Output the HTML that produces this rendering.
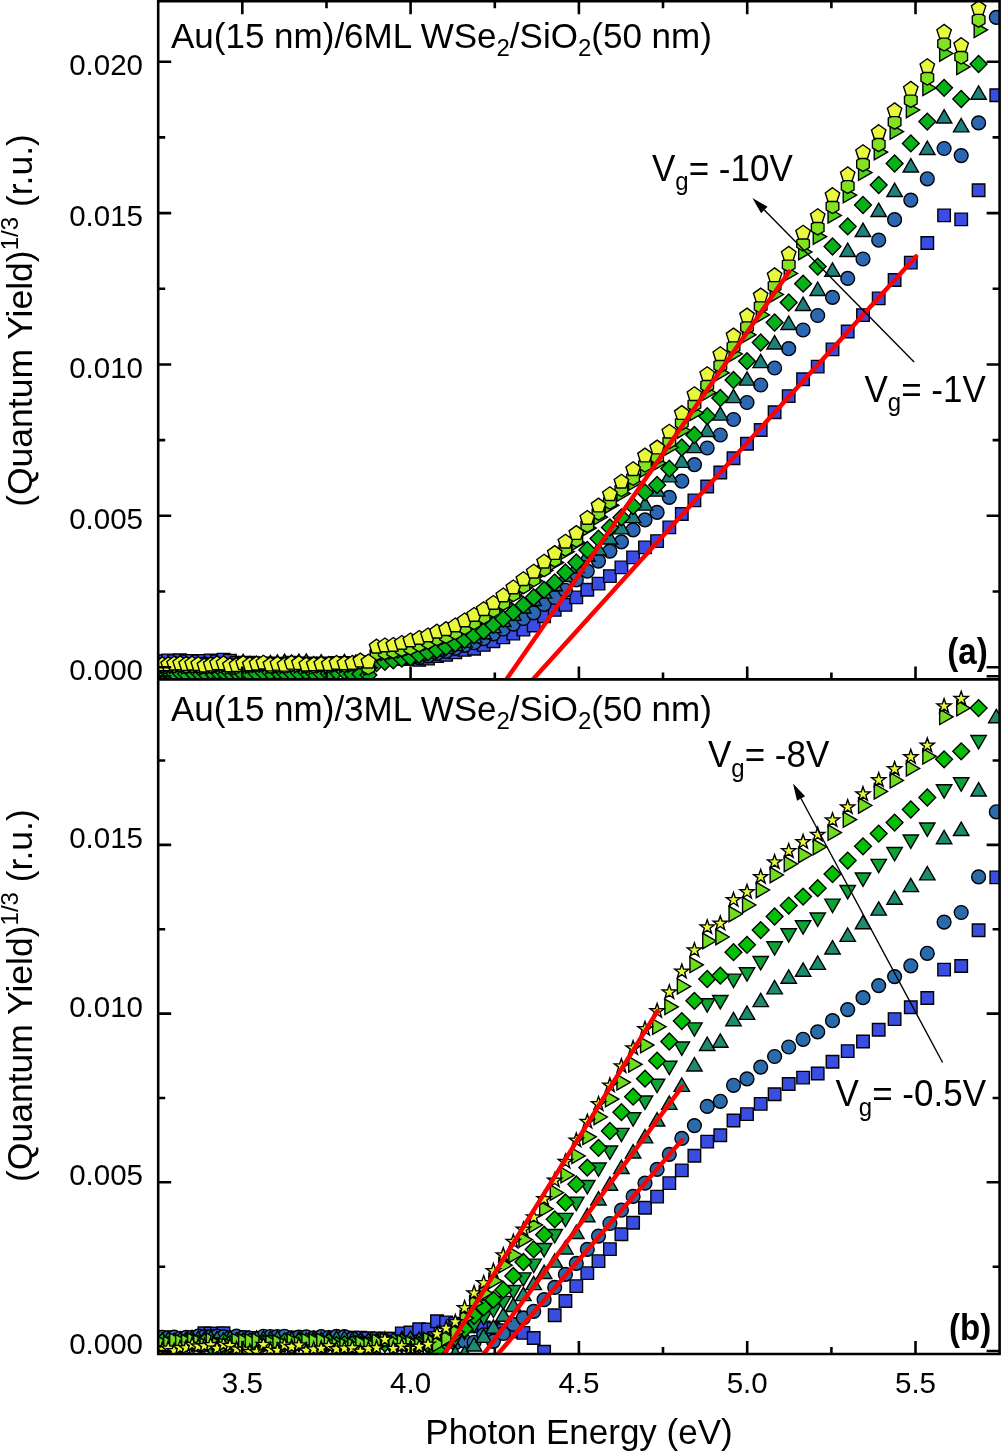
<!DOCTYPE html>
<html><head><meta charset="utf-8"><style>
html,body{margin:0;padding:0;background:#fff;overflow:hidden;}
svg{display:block;font-family:"Liberation Sans",sans-serif;will-change:transform;}
</style></head><body>
<svg width="1001" height="1452" viewBox="0 0 1001 1452">
<defs><path id="m_sq" d="M-6.25,-6.25h12.5v12.5h-12.5z"/><path id="m_diam" d="M0,-8.4L8.4,0L0,8.4L-8.4,0z"/><path id="m_tri" d="M0.00,-8.90L7.71,4.45L-7.71,4.45z"/><path id="m_tdn" d="M0.00,8.90L-7.71,-4.45L7.71,-4.45z"/><path id="m_rtri" d="M8.90,0.00L-4.45,7.71L-4.45,-7.71z"/><path id="m_pent" d="M0.00,-7.60L7.23,-2.35L4.47,6.15L-4.47,6.15L-7.23,-2.35z"/><path id="m_hex" d="M0.00,-7.30L6.32,-3.65L6.32,3.65L0.00,7.30L-6.32,3.65L-6.32,-3.65z"/><path id="m_star" d="M0.00,-7.50L1.76,-2.43L7.13,-2.32L2.85,0.93L4.41,6.07L0.00,3.00L-4.41,6.07L-2.85,0.93L-7.13,-2.32L-1.76,-2.43z"/><clipPath id="clipA"><rect x="158.2" y="1.3" width="841.4000000000001" height="678.1"/></clipPath><clipPath id="clipB"><rect x="158.2" y="679.4" width="841.4000000000001" height="674.6"/></clipPath></defs>
<g clip-path="url(#clipA)" stroke="#000" stroke-width="1.4" stroke-linejoin="miter">
<g fill="#3a4ce3">
<use href="#m_sq" x="156.7" y="661.3"/>
<use href="#m_sq" x="162.4" y="661.4"/>
<use href="#m_sq" x="168.2" y="660.4"/>
<use href="#m_sq" x="174.1" y="661.1"/>
<use href="#m_sq" x="180.1" y="660.3"/>
<use href="#m_sq" x="186.1" y="661.3"/>
<use href="#m_sq" x="192.1" y="660.9"/>
<use href="#m_sq" x="198.2" y="661.3"/>
<use href="#m_sq" x="204.4" y="660.9"/>
<use href="#m_sq" x="210.7" y="660.4"/>
<use href="#m_sq" x="217.0" y="661.2"/>
<use href="#m_sq" x="223.5" y="659.6"/>
<use href="#m_sq" x="229.9" y="660.6"/>
<use href="#m_sq" x="236.5" y="662.8"/>
<use href="#m_sq" x="243.1" y="664.0"/>
<use href="#m_sq" x="249.8" y="662.6"/>
<use href="#m_sq" x="256.6" y="663.8"/>
<use href="#m_sq" x="263.4" y="664.0"/>
<use href="#m_sq" x="270.4" y="663.5"/>
<use href="#m_sq" x="277.4" y="664.2"/>
<use href="#m_sq" x="284.5" y="663.8"/>
<use href="#m_sq" x="291.6" y="662.8"/>
<use href="#m_sq" x="298.9" y="663.8"/>
<use href="#m_sq" x="306.3" y="663.5"/>
<use href="#m_sq" x="313.7" y="664.2"/>
<use href="#m_sq" x="321.2" y="663.4"/>
<use href="#m_sq" x="328.8" y="664.5"/>
<use href="#m_sq" x="336.5" y="663.0"/>
<use href="#m_sq" x="344.4" y="663.0"/>
<use href="#m_sq" x="352.3" y="664.2"/>
<use href="#m_sq" x="360.3" y="662.5"/>
<use href="#m_sq" x="368.4" y="662.6"/>
<use href="#m_sq" x="376.6" y="657.5"/>
<use href="#m_sq" x="384.9" y="658.0"/>
<use href="#m_sq" x="393.3" y="658.1"/>
<use href="#m_sq" x="401.8" y="658.9"/>
<use href="#m_sq" x="410.4" y="658.8"/>
<use href="#m_sq" x="419.2" y="659.9"/>
<use href="#m_sq" x="428.0" y="658.6"/>
<use href="#m_sq" x="437.0" y="656.1"/>
<use href="#m_sq" x="446.1" y="654.9"/>
<use href="#m_sq" x="455.3" y="652.4"/>
<use href="#m_sq" x="464.6" y="649.9"/>
<use href="#m_sq" x="474.1" y="648.7"/>
<use href="#m_sq" x="483.7" y="644.9"/>
<use href="#m_sq" x="493.4" y="641.2"/>
<use href="#m_sq" x="503.3" y="637.4"/>
<use href="#m_sq" x="513.3" y="633.6"/>
<use href="#m_sq" x="523.4" y="629.6"/>
<use href="#m_sq" x="533.7" y="625.5"/>
<use href="#m_sq" x="544.1" y="616.2"/>
<use href="#m_sq" x="554.7" y="609.9"/>
<use href="#m_sq" x="565.4" y="604.9"/>
<use href="#m_sq" x="576.3" y="597.4"/>
<use href="#m_sq" x="587.3" y="589.8"/>
<use href="#m_sq" x="598.5" y="583.6"/>
<use href="#m_sq" x="609.9" y="576.1"/>
<use href="#m_sq" x="621.4" y="567.4"/>
<use href="#m_sq" x="633.1" y="557.4"/>
<use href="#m_sq" x="645.0" y="547.4"/>
<use href="#m_sq" x="657.1" y="541.1"/>
<use href="#m_sq" x="669.3" y="527.4"/>
<use href="#m_sq" x="681.8" y="514.0"/>
<use href="#m_sq" x="694.4" y="500.4"/>
<use href="#m_sq" x="707.2" y="486.5"/>
<use href="#m_sq" x="720.3" y="472.5"/>
<use href="#m_sq" x="733.5" y="458.2"/>
<use href="#m_sq" x="747.0" y="443.7"/>
<use href="#m_sq" x="760.7" y="430.0"/>
<use href="#m_sq" x="774.6" y="412.3"/>
<use href="#m_sq" x="788.7" y="396.1"/>
<use href="#m_sq" x="803.1" y="379.2"/>
<use href="#m_sq" x="817.7" y="366.6"/>
<use href="#m_sq" x="832.5" y="349.4"/>
<use href="#m_sq" x="847.7" y="331.5"/>
<use href="#m_sq" x="863.0" y="315.1"/>
<use href="#m_sq" x="878.7" y="298.4"/>
<use href="#m_sq" x="894.6" y="280.0"/>
<use href="#m_sq" x="910.8" y="262.6"/>
<use href="#m_sq" x="927.3" y="243.0"/>
<use href="#m_sq" x="944.1" y="215.4"/>
<use href="#m_sq" x="961.2" y="219.4"/>
<use href="#m_sq" x="978.6" y="190.3"/>
<use href="#m_sq" x="996.3" y="95.2"/>
</g>
<g fill="#2c67b3">
<circle cx="156.7" cy="665.3" r="6.9"/>
<circle cx="162.4" cy="664.9" r="6.9"/>
<circle cx="168.2" cy="665.9" r="6.9"/>
<circle cx="174.1" cy="665.0" r="6.9"/>
<circle cx="180.1" cy="665.0" r="6.9"/>
<circle cx="186.1" cy="664.1" r="6.9"/>
<circle cx="192.1" cy="664.5" r="6.9"/>
<circle cx="198.2" cy="664.5" r="6.9"/>
<circle cx="204.4" cy="664.1" r="6.9"/>
<circle cx="210.7" cy="664.6" r="6.9"/>
<circle cx="217.0" cy="665.5" r="6.9"/>
<circle cx="223.5" cy="664.1" r="6.9"/>
<circle cx="229.9" cy="665.4" r="6.9"/>
<circle cx="236.5" cy="665.6" r="6.9"/>
<circle cx="243.1" cy="665.8" r="6.9"/>
<circle cx="249.8" cy="664.2" r="6.9"/>
<circle cx="256.6" cy="664.4" r="6.9"/>
<circle cx="263.4" cy="664.3" r="6.9"/>
<circle cx="270.4" cy="664.2" r="6.9"/>
<circle cx="277.4" cy="665.7" r="6.9"/>
<circle cx="284.5" cy="664.8" r="6.9"/>
<circle cx="291.6" cy="664.7" r="6.9"/>
<circle cx="298.9" cy="665.5" r="6.9"/>
<circle cx="306.3" cy="664.4" r="6.9"/>
<circle cx="313.7" cy="665.2" r="6.9"/>
<circle cx="321.2" cy="664.3" r="6.9"/>
<circle cx="328.8" cy="664.4" r="6.9"/>
<circle cx="336.5" cy="664.3" r="6.9"/>
<circle cx="344.4" cy="665.1" r="6.9"/>
<circle cx="352.3" cy="665.7" r="6.9"/>
<circle cx="360.3" cy="665.7" r="6.9"/>
<circle cx="368.4" cy="665.7" r="6.9"/>
<circle cx="376.6" cy="660.0" r="6.9"/>
<circle cx="384.9" cy="659.8" r="6.9"/>
<circle cx="393.3" cy="659.1" r="6.9"/>
<circle cx="401.8" cy="658.8" r="6.9"/>
<circle cx="410.4" cy="658.2" r="6.9"/>
<circle cx="419.2" cy="657.6" r="6.9"/>
<circle cx="428.0" cy="655.8" r="6.9"/>
<circle cx="437.0" cy="653.3" r="6.9"/>
<circle cx="446.1" cy="651.3" r="6.9"/>
<circle cx="455.3" cy="648.4" r="6.9"/>
<circle cx="464.6" cy="645.4" r="6.9"/>
<circle cx="474.1" cy="642.7" r="6.9"/>
<circle cx="483.7" cy="638.7" r="6.9"/>
<circle cx="493.4" cy="633.9" r="6.9"/>
<circle cx="503.3" cy="629.0" r="6.9"/>
<circle cx="513.3" cy="624.1" r="6.9"/>
<circle cx="523.4" cy="618.5" r="6.9"/>
<circle cx="533.7" cy="612.9" r="6.9"/>
<circle cx="544.1" cy="604.4" r="6.9"/>
<circle cx="554.7" cy="597.5" r="6.9"/>
<circle cx="565.4" cy="590.3" r="6.9"/>
<circle cx="576.3" cy="579.8" r="6.9"/>
<circle cx="587.3" cy="571.1" r="6.9"/>
<circle cx="598.5" cy="561.1" r="6.9"/>
<circle cx="609.9" cy="551.1" r="6.9"/>
<circle cx="621.4" cy="541.9" r="6.9"/>
<circle cx="633.1" cy="529.9" r="6.9"/>
<circle cx="645.0" cy="519.9" r="6.9"/>
<circle cx="657.1" cy="512.4" r="6.9"/>
<circle cx="669.3" cy="497.4" r="6.9"/>
<circle cx="681.8" cy="481.2" r="6.9"/>
<circle cx="694.4" cy="464.7" r="6.9"/>
<circle cx="707.2" cy="448.0" r="6.9"/>
<circle cx="720.3" cy="435.0" r="6.9"/>
<circle cx="733.5" cy="419.5" r="6.9"/>
<circle cx="747.0" cy="402.5" r="6.9"/>
<circle cx="760.7" cy="385.0" r="6.9"/>
<circle cx="774.6" cy="368.0" r="6.9"/>
<circle cx="788.7" cy="348.7" r="6.9"/>
<circle cx="803.1" cy="330.0" r="6.9"/>
<circle cx="817.7" cy="315.5" r="6.9"/>
<circle cx="832.5" cy="297.4" r="6.9"/>
<circle cx="847.7" cy="278.4" r="6.9"/>
<circle cx="863.0" cy="259.0" r="6.9"/>
<circle cx="878.7" cy="240.2" r="6.9"/>
<circle cx="894.6" cy="219.7" r="6.9"/>
<circle cx="910.8" cy="200.1" r="6.9"/>
<circle cx="927.3" cy="178.8" r="6.9"/>
<circle cx="944.1" cy="148.5" r="6.9"/>
<circle cx="961.2" cy="155.6" r="6.9"/>
<circle cx="978.6" cy="122.9" r="6.9"/>
<circle cx="996.3" cy="17.4" r="6.9"/>
</g>
<g fill="#20807a">
<use href="#m_tri" x="156.7" y="665.7"/>
<use href="#m_tri" x="162.4" y="668.3"/>
<use href="#m_tri" x="168.2" y="665.6"/>
<use href="#m_tri" x="174.1" y="667.5"/>
<use href="#m_tri" x="180.1" y="666.5"/>
<use href="#m_tri" x="186.1" y="665.9"/>
<use href="#m_tri" x="192.1" y="665.9"/>
<use href="#m_tri" x="198.2" y="668.1"/>
<use href="#m_tri" x="204.4" y="665.7"/>
<use href="#m_tri" x="210.7" y="667.9"/>
<use href="#m_tri" x="217.0" y="667.8"/>
<use href="#m_tri" x="223.5" y="668.3"/>
<use href="#m_tri" x="229.9" y="667.3"/>
<use href="#m_tri" x="236.5" y="665.3"/>
<use href="#m_tri" x="243.1" y="663.2"/>
<use href="#m_tri" x="249.8" y="665.2"/>
<use href="#m_tri" x="256.6" y="665.2"/>
<use href="#m_tri" x="263.4" y="665.2"/>
<use href="#m_tri" x="270.4" y="664.3"/>
<use href="#m_tri" x="277.4" y="663.8"/>
<use href="#m_tri" x="284.5" y="663.0"/>
<use href="#m_tri" x="291.6" y="663.9"/>
<use href="#m_tri" x="298.9" y="663.1"/>
<use href="#m_tri" x="306.3" y="662.8"/>
<use href="#m_tri" x="313.7" y="665.6"/>
<use href="#m_tri" x="321.2" y="663.6"/>
<use href="#m_tri" x="328.8" y="665.7"/>
<use href="#m_tri" x="336.5" y="664.8"/>
<use href="#m_tri" x="344.4" y="663.2"/>
<use href="#m_tri" x="352.3" y="664.7"/>
<use href="#m_tri" x="360.3" y="665.6"/>
<use href="#m_tri" x="368.4" y="664.3"/>
<use href="#m_tri" x="376.6" y="661.3"/>
<use href="#m_tri" x="384.9" y="660.7"/>
<use href="#m_tri" x="393.3" y="659.7"/>
<use href="#m_tri" x="401.8" y="658.5"/>
<use href="#m_tri" x="410.4" y="657.8"/>
<use href="#m_tri" x="419.2" y="655.8"/>
<use href="#m_tri" x="428.0" y="653.7"/>
<use href="#m_tri" x="437.0" y="651.6"/>
<use href="#m_tri" x="446.1" y="648.9"/>
<use href="#m_tri" x="455.3" y="646.0"/>
<use href="#m_tri" x="464.6" y="642.7"/>
<use href="#m_tri" x="474.1" y="638.4"/>
<use href="#m_tri" x="483.7" y="634.3"/>
<use href="#m_tri" x="493.4" y="628.2"/>
<use href="#m_tri" x="503.3" y="622.1"/>
<use href="#m_tri" x="513.3" y="615.9"/>
<use href="#m_tri" x="523.4" y="608.5"/>
<use href="#m_tri" x="533.7" y="601.1"/>
<use href="#m_tri" x="544.1" y="593.7"/>
<use href="#m_tri" x="554.7" y="586.3"/>
<use href="#m_tri" x="565.4" y="577.0"/>
<use href="#m_tri" x="576.3" y="568.1"/>
<use href="#m_tri" x="587.3" y="556.6"/>
<use href="#m_tri" x="598.5" y="550.5"/>
<use href="#m_tri" x="609.9" y="539.5"/>
<use href="#m_tri" x="621.4" y="529.4"/>
<use href="#m_tri" x="633.1" y="518.2"/>
<use href="#m_tri" x="645.0" y="505.7"/>
<use href="#m_tri" x="657.1" y="491.7"/>
<use href="#m_tri" x="669.3" y="477.4"/>
<use href="#m_tri" x="681.8" y="462.9"/>
<use href="#m_tri" x="694.4" y="448.2"/>
<use href="#m_tri" x="707.2" y="432.0"/>
<use href="#m_tri" x="720.3" y="415.7"/>
<use href="#m_tri" x="733.5" y="398.2"/>
<use href="#m_tri" x="747.0" y="380.7"/>
<use href="#m_tri" x="760.7" y="363.2"/>
<use href="#m_tri" x="774.6" y="344.5"/>
<use href="#m_tri" x="788.7" y="325.0"/>
<use href="#m_tri" x="803.1" y="306.0"/>
<use href="#m_tri" x="817.7" y="291.0"/>
<use href="#m_tri" x="832.5" y="271.8"/>
<use href="#m_tri" x="847.7" y="252.0"/>
<use href="#m_tri" x="863.0" y="232.0"/>
<use href="#m_tri" x="878.7" y="212.0"/>
<use href="#m_tri" x="894.6" y="192.0"/>
<use href="#m_tri" x="910.8" y="167.5"/>
<use href="#m_tri" x="927.3" y="150.0"/>
<use href="#m_tri" x="944.1" y="118.6"/>
<use href="#m_tri" x="961.2" y="127.4"/>
<use href="#m_tri" x="978.6" y="94.8"/>
</g>
<g fill="#05b217">
<use href="#m_diam" x="156.7" y="672.0"/>
<use href="#m_diam" x="162.4" y="671.1"/>
<use href="#m_diam" x="168.2" y="671.7"/>
<use href="#m_diam" x="174.1" y="672.7"/>
<use href="#m_diam" x="180.1" y="672.6"/>
<use href="#m_diam" x="186.1" y="673.7"/>
<use href="#m_diam" x="192.1" y="672.1"/>
<use href="#m_diam" x="198.2" y="672.0"/>
<use href="#m_diam" x="204.4" y="672.4"/>
<use href="#m_diam" x="210.7" y="671.1"/>
<use href="#m_diam" x="217.0" y="671.1"/>
<use href="#m_diam" x="223.5" y="671.8"/>
<use href="#m_diam" x="229.9" y="672.3"/>
<use href="#m_diam" x="236.5" y="672.6"/>
<use href="#m_diam" x="243.1" y="673.8"/>
<use href="#m_diam" x="249.8" y="674.0"/>
<use href="#m_diam" x="256.6" y="673.2"/>
<use href="#m_diam" x="263.4" y="672.2"/>
<use href="#m_diam" x="270.4" y="672.3"/>
<use href="#m_diam" x="277.4" y="671.5"/>
<use href="#m_diam" x="284.5" y="672.7"/>
<use href="#m_diam" x="291.6" y="672.8"/>
<use href="#m_diam" x="298.9" y="672.8"/>
<use href="#m_diam" x="306.3" y="671.9"/>
<use href="#m_diam" x="313.7" y="673.0"/>
<use href="#m_diam" x="321.2" y="673.2"/>
<use href="#m_diam" x="328.8" y="673.5"/>
<use href="#m_diam" x="336.5" y="671.3"/>
<use href="#m_diam" x="344.4" y="671.2"/>
<use href="#m_diam" x="352.3" y="673.8"/>
<use href="#m_diam" x="360.3" y="673.9"/>
<use href="#m_diam" x="368.4" y="674.9"/>
<use href="#m_diam" x="376.6" y="663.0"/>
<use href="#m_diam" x="384.9" y="661.9"/>
<use href="#m_diam" x="393.3" y="660.4"/>
<use href="#m_diam" x="401.8" y="658.6"/>
<use href="#m_diam" x="410.4" y="657.4"/>
<use href="#m_diam" x="419.2" y="654.9"/>
<use href="#m_diam" x="428.0" y="652.4"/>
<use href="#m_diam" x="437.0" y="649.9"/>
<use href="#m_diam" x="446.1" y="646.9"/>
<use href="#m_diam" x="455.3" y="643.6"/>
<use href="#m_diam" x="464.6" y="639.9"/>
<use href="#m_diam" x="474.1" y="635.4"/>
<use href="#m_diam" x="483.7" y="631.1"/>
<use href="#m_diam" x="493.4" y="624.9"/>
<use href="#m_diam" x="503.3" y="618.7"/>
<use href="#m_diam" x="513.3" y="612.4"/>
<use href="#m_diam" x="523.4" y="604.9"/>
<use href="#m_diam" x="533.7" y="597.4"/>
<use href="#m_diam" x="544.1" y="589.9"/>
<use href="#m_diam" x="554.7" y="582.4"/>
<use href="#m_diam" x="565.4" y="572.5"/>
<use href="#m_diam" x="576.3" y="562.5"/>
<use href="#m_diam" x="587.3" y="549.9"/>
<use href="#m_diam" x="598.5" y="538.6"/>
<use href="#m_diam" x="609.9" y="527.4"/>
<use href="#m_diam" x="621.4" y="517.4"/>
<use href="#m_diam" x="633.1" y="506.2"/>
<use href="#m_diam" x="645.0" y="492.4"/>
<use href="#m_diam" x="657.1" y="485.0"/>
<use href="#m_diam" x="669.3" y="468.7"/>
<use href="#m_diam" x="681.8" y="447.5"/>
<use href="#m_diam" x="694.4" y="435.0"/>
<use href="#m_diam" x="707.2" y="416.2"/>
<use href="#m_diam" x="720.3" y="398.0"/>
<use href="#m_diam" x="733.5" y="380.0"/>
<use href="#m_diam" x="747.0" y="361.2"/>
<use href="#m_diam" x="760.7" y="342.5"/>
<use href="#m_diam" x="774.6" y="322.5"/>
<use href="#m_diam" x="788.7" y="302.5"/>
<use href="#m_diam" x="803.1" y="283.7"/>
<use href="#m_diam" x="817.7" y="266.6"/>
<use href="#m_diam" x="832.5" y="246.5"/>
<use href="#m_diam" x="847.7" y="226.4"/>
<use href="#m_diam" x="863.0" y="205.0"/>
<use href="#m_diam" x="878.7" y="185.0"/>
<use href="#m_diam" x="894.6" y="163.5"/>
<use href="#m_diam" x="910.8" y="143.4"/>
<use href="#m_diam" x="927.3" y="121.6"/>
<use href="#m_diam" x="944.1" y="87.8"/>
<use href="#m_diam" x="961.2" y="99.0"/>
<use href="#m_diam" x="978.6" y="64.0"/>
</g>
<g fill="#4dd416">
<use href="#m_rtri" x="156.7" y="664.9"/>
<use href="#m_rtri" x="162.4" y="666.5"/>
<use href="#m_rtri" x="168.2" y="666.3"/>
<use href="#m_rtri" x="174.1" y="665.7"/>
<use href="#m_rtri" x="180.1" y="664.5"/>
<use href="#m_rtri" x="186.1" y="666.2"/>
<use href="#m_rtri" x="192.1" y="665.4"/>
<use href="#m_rtri" x="198.2" y="665.6"/>
<use href="#m_rtri" x="204.4" y="667.0"/>
<use href="#m_rtri" x="210.7" y="666.7"/>
<use href="#m_rtri" x="217.0" y="665.5"/>
<use href="#m_rtri" x="223.5" y="665.3"/>
<use href="#m_rtri" x="229.9" y="666.6"/>
<use href="#m_rtri" x="236.5" y="667.3"/>
<use href="#m_rtri" x="243.1" y="664.5"/>
<use href="#m_rtri" x="249.8" y="665.5"/>
<use href="#m_rtri" x="256.6" y="664.8"/>
<use href="#m_rtri" x="263.4" y="664.5"/>
<use href="#m_rtri" x="270.4" y="666.1"/>
<use href="#m_rtri" x="277.4" y="665.8"/>
<use href="#m_rtri" x="284.5" y="665.9"/>
<use href="#m_rtri" x="291.6" y="665.0"/>
<use href="#m_rtri" x="298.9" y="665.0"/>
<use href="#m_rtri" x="306.3" y="665.8"/>
<use href="#m_rtri" x="313.7" y="666.7"/>
<use href="#m_rtri" x="321.2" y="665.1"/>
<use href="#m_rtri" x="328.8" y="666.0"/>
<use href="#m_rtri" x="336.5" y="664.6"/>
<use href="#m_rtri" x="344.4" y="664.9"/>
<use href="#m_rtri" x="352.3" y="664.6"/>
<use href="#m_rtri" x="360.3" y="662.7"/>
<use href="#m_rtri" x="368.4" y="667.7"/>
<use href="#m_rtri" x="376.6" y="653.6"/>
<use href="#m_rtri" x="384.9" y="652.9"/>
<use href="#m_rtri" x="393.3" y="651.6"/>
<use href="#m_rtri" x="401.8" y="650.4"/>
<use href="#m_rtri" x="410.4" y="647.6"/>
<use href="#m_rtri" x="419.2" y="644.8"/>
<use href="#m_rtri" x="428.0" y="642.5"/>
<use href="#m_rtri" x="437.0" y="638.7"/>
<use href="#m_rtri" x="446.1" y="636.5"/>
<use href="#m_rtri" x="455.3" y="632.8"/>
<use href="#m_rtri" x="464.6" y="628.5"/>
<use href="#m_rtri" x="474.1" y="623.2"/>
<use href="#m_rtri" x="483.7" y="617.4"/>
<use href="#m_rtri" x="493.4" y="611.5"/>
<use href="#m_rtri" x="503.3" y="603.3"/>
<use href="#m_rtri" x="513.3" y="596.0"/>
<use href="#m_rtri" x="523.4" y="587.8"/>
<use href="#m_rtri" x="533.7" y="581.0"/>
<use href="#m_rtri" x="544.1" y="570.4"/>
<use href="#m_rtri" x="554.7" y="562.6"/>
<use href="#m_rtri" x="565.4" y="551.7"/>
<use href="#m_rtri" x="576.3" y="542.7"/>
<use href="#m_rtri" x="587.3" y="528.1"/>
<use href="#m_rtri" x="598.5" y="517.1"/>
<use href="#m_rtri" x="609.9" y="505.3"/>
<use href="#m_rtri" x="621.4" y="493.6"/>
<use href="#m_rtri" x="633.1" y="482.6"/>
<use href="#m_rtri" x="645.0" y="469.3"/>
<use href="#m_rtri" x="657.1" y="463.1"/>
<use href="#m_rtri" x="669.3" y="447.5"/>
<use href="#m_rtri" x="681.8" y="430.5"/>
<use href="#m_rtri" x="694.4" y="412.9"/>
<use href="#m_rtri" x="707.2" y="392.7"/>
<use href="#m_rtri" x="720.3" y="372.8"/>
<use href="#m_rtri" x="733.5" y="354.0"/>
<use href="#m_rtri" x="747.0" y="334.8"/>
<use href="#m_rtri" x="760.7" y="314.9"/>
<use href="#m_rtri" x="774.6" y="294.5"/>
<use href="#m_rtri" x="788.7" y="273.4"/>
<use href="#m_rtri" x="803.1" y="252.0"/>
<use href="#m_rtri" x="817.7" y="236.6"/>
<use href="#m_rtri" x="832.5" y="215.4"/>
<use href="#m_rtri" x="847.7" y="195.1"/>
<use href="#m_rtri" x="863.0" y="172.6"/>
<use href="#m_rtri" x="878.7" y="152.1"/>
<use href="#m_rtri" x="894.6" y="131.6"/>
<use href="#m_rtri" x="910.8" y="110.0"/>
<use href="#m_rtri" x="927.3" y="87.9"/>
<use href="#m_rtri" x="944.1" y="53.5"/>
<use href="#m_rtri" x="961.2" y="66.9"/>
<use href="#m_rtri" x="978.6" y="29.8"/>
</g>
<g fill="#82e220">
<use href="#m_hex" x="156.7" y="665.3"/>
<use href="#m_hex" x="162.4" y="665.1"/>
<use href="#m_hex" x="168.2" y="664.7"/>
<use href="#m_hex" x="174.1" y="665.3"/>
<use href="#m_hex" x="180.1" y="664.6"/>
<use href="#m_hex" x="186.1" y="665.8"/>
<use href="#m_hex" x="192.1" y="665.2"/>
<use href="#m_hex" x="198.2" y="665.4"/>
<use href="#m_hex" x="204.4" y="665.9"/>
<use href="#m_hex" x="210.7" y="665.5"/>
<use href="#m_hex" x="217.0" y="663.9"/>
<use href="#m_hex" x="223.5" y="664.1"/>
<use href="#m_hex" x="229.9" y="666.0"/>
<use href="#m_hex" x="236.5" y="666.2"/>
<use href="#m_hex" x="243.1" y="664.5"/>
<use href="#m_hex" x="249.8" y="665.0"/>
<use href="#m_hex" x="256.6" y="664.2"/>
<use href="#m_hex" x="263.4" y="663.2"/>
<use href="#m_hex" x="270.4" y="666.0"/>
<use href="#m_hex" x="277.4" y="664.8"/>
<use href="#m_hex" x="284.5" y="665.5"/>
<use href="#m_hex" x="291.6" y="664.1"/>
<use href="#m_hex" x="298.9" y="663.8"/>
<use href="#m_hex" x="306.3" y="665.4"/>
<use href="#m_hex" x="313.7" y="665.6"/>
<use href="#m_hex" x="321.2" y="664.6"/>
<use href="#m_hex" x="328.8" y="665.0"/>
<use href="#m_hex" x="336.5" y="663.6"/>
<use href="#m_hex" x="344.4" y="665.0"/>
<use href="#m_hex" x="352.3" y="663.7"/>
<use href="#m_hex" x="360.3" y="661.6"/>
<use href="#m_hex" x="368.4" y="667.4"/>
<use href="#m_hex" x="376.6" y="653.1"/>
<use href="#m_hex" x="384.9" y="652.3"/>
<use href="#m_hex" x="393.3" y="651.1"/>
<use href="#m_hex" x="401.8" y="649.1"/>
<use href="#m_hex" x="410.4" y="647.6"/>
<use href="#m_hex" x="419.2" y="644.5"/>
<use href="#m_hex" x="428.0" y="641.8"/>
<use href="#m_hex" x="437.0" y="638.4"/>
<use href="#m_hex" x="446.1" y="636.1"/>
<use href="#m_hex" x="455.3" y="632.2"/>
<use href="#m_hex" x="464.6" y="627.3"/>
<use href="#m_hex" x="474.1" y="622.2"/>
<use href="#m_hex" x="483.7" y="616.6"/>
<use href="#m_hex" x="493.4" y="610.0"/>
<use href="#m_hex" x="503.3" y="602.9"/>
<use href="#m_hex" x="513.3" y="594.2"/>
<use href="#m_hex" x="523.4" y="586.3"/>
<use href="#m_hex" x="533.7" y="579.2"/>
<use href="#m_hex" x="544.1" y="569.3"/>
<use href="#m_hex" x="554.7" y="559.6"/>
<use href="#m_hex" x="565.4" y="548.8"/>
<use href="#m_hex" x="576.3" y="539.8"/>
<use href="#m_hex" x="587.3" y="525.1"/>
<use href="#m_hex" x="598.5" y="512.9"/>
<use href="#m_hex" x="609.9" y="501.9"/>
<use href="#m_hex" x="621.4" y="489.2"/>
<use href="#m_hex" x="633.1" y="478.0"/>
<use href="#m_hex" x="645.0" y="464.7"/>
<use href="#m_hex" x="657.1" y="457.0"/>
<use href="#m_hex" x="669.3" y="441.5"/>
<use href="#m_hex" x="681.8" y="422.8"/>
<use href="#m_hex" x="694.4" y="404.3"/>
<use href="#m_hex" x="707.2" y="385.3"/>
<use href="#m_hex" x="720.3" y="365.4"/>
<use href="#m_hex" x="733.5" y="346.8"/>
<use href="#m_hex" x="747.0" y="327.0"/>
<use href="#m_hex" x="760.7" y="306.2"/>
<use href="#m_hex" x="774.6" y="285.9"/>
<use href="#m_hex" x="788.7" y="264.6"/>
<use href="#m_hex" x="803.1" y="243.7"/>
<use href="#m_hex" x="817.7" y="227.6"/>
<use href="#m_hex" x="832.5" y="206.2"/>
<use href="#m_hex" x="847.7" y="186.1"/>
<use href="#m_hex" x="863.0" y="164.1"/>
<use href="#m_hex" x="878.7" y="144.3"/>
<use href="#m_hex" x="894.6" y="121.9"/>
<use href="#m_hex" x="910.8" y="100.1"/>
<use href="#m_hex" x="927.3" y="77.7"/>
<use href="#m_hex" x="944.1" y="43.7"/>
<use href="#m_hex" x="961.2" y="56.7"/>
<use href="#m_hex" x="978.6" y="19.9"/>
</g>
<g fill="#e8f93c">
<use href="#m_pent" x="156.7" y="664.0"/>
<use href="#m_pent" x="162.4" y="664.6"/>
<use href="#m_pent" x="168.2" y="664.5"/>
<use href="#m_pent" x="174.1" y="663.9"/>
<use href="#m_pent" x="180.1" y="663.5"/>
<use href="#m_pent" x="186.1" y="664.4"/>
<use href="#m_pent" x="192.1" y="663.9"/>
<use href="#m_pent" x="198.2" y="664.3"/>
<use href="#m_pent" x="204.4" y="665.7"/>
<use href="#m_pent" x="210.7" y="664.7"/>
<use href="#m_pent" x="217.0" y="663.5"/>
<use href="#m_pent" x="223.5" y="663.5"/>
<use href="#m_pent" x="229.9" y="665.5"/>
<use href="#m_pent" x="236.5" y="665.2"/>
<use href="#m_pent" x="243.1" y="663.4"/>
<use href="#m_pent" x="249.8" y="664.6"/>
<use href="#m_pent" x="256.6" y="663.9"/>
<use href="#m_pent" x="263.4" y="662.9"/>
<use href="#m_pent" x="270.4" y="664.7"/>
<use href="#m_pent" x="277.4" y="664.0"/>
<use href="#m_pent" x="284.5" y="665.0"/>
<use href="#m_pent" x="291.6" y="663.0"/>
<use href="#m_pent" x="298.9" y="663.2"/>
<use href="#m_pent" x="306.3" y="664.9"/>
<use href="#m_pent" x="313.7" y="664.6"/>
<use href="#m_pent" x="321.2" y="664.1"/>
<use href="#m_pent" x="328.8" y="664.3"/>
<use href="#m_pent" x="336.5" y="663.1"/>
<use href="#m_pent" x="344.4" y="663.6"/>
<use href="#m_pent" x="352.3" y="663.1"/>
<use href="#m_pent" x="360.3" y="660.7"/>
<use href="#m_pent" x="368.4" y="661.8"/>
<use href="#m_pent" x="376.6" y="646.8"/>
<use href="#m_pent" x="384.9" y="645.6"/>
<use href="#m_pent" x="393.3" y="645.1"/>
<use href="#m_pent" x="401.8" y="643.1"/>
<use href="#m_pent" x="410.4" y="640.6"/>
<use href="#m_pent" x="419.2" y="638.1"/>
<use href="#m_pent" x="428.0" y="635.6"/>
<use href="#m_pent" x="437.0" y="631.8"/>
<use href="#m_pent" x="446.1" y="629.3"/>
<use href="#m_pent" x="455.3" y="625.6"/>
<use href="#m_pent" x="464.6" y="620.6"/>
<use href="#m_pent" x="474.1" y="615.1"/>
<use href="#m_pent" x="483.7" y="609.4"/>
<use href="#m_pent" x="493.4" y="603.1"/>
<use href="#m_pent" x="503.3" y="595.6"/>
<use href="#m_pent" x="513.3" y="587.6"/>
<use href="#m_pent" x="523.4" y="579.4"/>
<use href="#m_pent" x="533.7" y="571.9"/>
<use href="#m_pent" x="544.1" y="561.9"/>
<use href="#m_pent" x="554.7" y="553.2"/>
<use href="#m_pent" x="565.4" y="541.9"/>
<use href="#m_pent" x="576.3" y="533.2"/>
<use href="#m_pent" x="587.3" y="518.1"/>
<use href="#m_pent" x="598.5" y="505.7"/>
<use href="#m_pent" x="609.9" y="494.4"/>
<use href="#m_pent" x="621.4" y="481.9"/>
<use href="#m_pent" x="633.1" y="469.4"/>
<use href="#m_pent" x="645.0" y="455.7"/>
<use href="#m_pent" x="657.1" y="447.7"/>
<use href="#m_pent" x="669.3" y="431.9"/>
<use href="#m_pent" x="681.8" y="413.2"/>
<use href="#m_pent" x="694.4" y="394.4"/>
<use href="#m_pent" x="707.2" y="374.4"/>
<use href="#m_pent" x="720.3" y="354.4"/>
<use href="#m_pent" x="733.5" y="335.7"/>
<use href="#m_pent" x="747.0" y="315.7"/>
<use href="#m_pent" x="760.7" y="295.7"/>
<use href="#m_pent" x="774.6" y="275.5"/>
<use href="#m_pent" x="788.7" y="254.0"/>
<use href="#m_pent" x="803.1" y="232.9"/>
<use href="#m_pent" x="817.7" y="216.4"/>
<use href="#m_pent" x="832.5" y="195.3"/>
<use href="#m_pent" x="847.7" y="174.5"/>
<use href="#m_pent" x="863.0" y="152.4"/>
<use href="#m_pent" x="878.7" y="132.3"/>
<use href="#m_pent" x="894.6" y="110.5"/>
<use href="#m_pent" x="910.8" y="89.0"/>
<use href="#m_pent" x="927.3" y="66.4"/>
<use href="#m_pent" x="944.1" y="32.0"/>
<use href="#m_pent" x="961.2" y="45.3"/>
<use href="#m_pent" x="978.6" y="8.2"/>
</g>
</g>
<g clip-path="url(#clipB)" stroke="#000" stroke-width="1.4" stroke-linejoin="miter">
<g fill="#394ee0">
<use href="#m_sq" x="156.7" y="1337.8"/>
<use href="#m_sq" x="162.4" y="1337.8"/>
<use href="#m_sq" x="168.2" y="1338.0"/>
<use href="#m_sq" x="174.1" y="1338.3"/>
<use href="#m_sq" x="180.1" y="1337.9"/>
<use href="#m_sq" x="186.1" y="1338.7"/>
<use href="#m_sq" x="192.1" y="1338.0"/>
<use href="#m_sq" x="198.2" y="1338.0"/>
<use href="#m_sq" x="204.4" y="1333.2"/>
<use href="#m_sq" x="210.7" y="1333.6"/>
<use href="#m_sq" x="217.0" y="1333.6"/>
<use href="#m_sq" x="223.5" y="1333.3"/>
<use href="#m_sq" x="229.9" y="1337.7"/>
<use href="#m_sq" x="236.5" y="1338.5"/>
<use href="#m_sq" x="243.1" y="1337.3"/>
<use href="#m_sq" x="249.8" y="1338.3"/>
<use href="#m_sq" x="256.6" y="1338.5"/>
<use href="#m_sq" x="263.4" y="1338.7"/>
<use href="#m_sq" x="270.4" y="1337.4"/>
<use href="#m_sq" x="277.4" y="1337.6"/>
<use href="#m_sq" x="284.5" y="1337.6"/>
<use href="#m_sq" x="291.6" y="1337.5"/>
<use href="#m_sq" x="298.9" y="1338.7"/>
<use href="#m_sq" x="306.3" y="1338.0"/>
<use href="#m_sq" x="313.7" y="1338.0"/>
<use href="#m_sq" x="321.2" y="1338.6"/>
<use href="#m_sq" x="328.8" y="1337.7"/>
<use href="#m_sq" x="336.5" y="1338.4"/>
<use href="#m_sq" x="344.4" y="1337.7"/>
<use href="#m_sq" x="352.3" y="1337.8"/>
<use href="#m_sq" x="360.3" y="1337.7"/>
<use href="#m_sq" x="368.4" y="1338.3"/>
<use href="#m_sq" x="376.6" y="1338.4"/>
<use href="#m_sq" x="384.9" y="1338.6"/>
<use href="#m_sq" x="393.3" y="1338.7"/>
<use href="#m_sq" x="401.8" y="1333.4"/>
<use href="#m_sq" x="410.4" y="1332.5"/>
<use href="#m_sq" x="419.2" y="1329.3"/>
<use href="#m_sq" x="428.0" y="1329.5"/>
<use href="#m_sq" x="437.0" y="1321.2"/>
<use href="#m_sq" x="446.1" y="1322.4"/>
<use href="#m_sq" x="455.3" y="1323.7"/>
<use href="#m_sq" x="464.6" y="1324.9"/>
<use href="#m_sq" x="474.1" y="1326.2"/>
<use href="#m_sq" x="483.7" y="1327.5"/>
<use href="#m_sq" x="493.4" y="1328.8"/>
<use href="#m_sq" x="503.3" y="1330.2"/>
<use href="#m_sq" x="513.3" y="1331.5"/>
<use href="#m_sq" x="523.4" y="1332.9"/>
<use href="#m_sq" x="533.7" y="1338.0"/>
<use href="#m_sq" x="544.1" y="1351.7"/>
<use href="#m_sq" x="554.7" y="1315.3"/>
<use href="#m_sq" x="565.4" y="1301.0"/>
<use href="#m_sq" x="576.3" y="1286.1"/>
<use href="#m_sq" x="587.3" y="1273.1"/>
<use href="#m_sq" x="598.5" y="1261.1"/>
<use href="#m_sq" x="609.9" y="1249.1"/>
<use href="#m_sq" x="621.4" y="1234.3"/>
<use href="#m_sq" x="633.1" y="1222.8"/>
<use href="#m_sq" x="645.0" y="1207.8"/>
<use href="#m_sq" x="657.1" y="1196.6"/>
<use href="#m_sq" x="669.3" y="1183.1"/>
<use href="#m_sq" x="681.8" y="1170.4"/>
<use href="#m_sq" x="694.4" y="1155.7"/>
<use href="#m_sq" x="707.2" y="1141.6"/>
<use href="#m_sq" x="720.3" y="1135.2"/>
<use href="#m_sq" x="733.5" y="1120.5"/>
<use href="#m_sq" x="747.0" y="1114.1"/>
<use href="#m_sq" x="760.7" y="1103.9"/>
<use href="#m_sq" x="774.6" y="1094.3"/>
<use href="#m_sq" x="788.7" y="1084.0"/>
<use href="#m_sq" x="803.1" y="1077.6"/>
<use href="#m_sq" x="817.7" y="1073.5"/>
<use href="#m_sq" x="832.5" y="1061.7"/>
<use href="#m_sq" x="847.7" y="1051.1"/>
<use href="#m_sq" x="863.0" y="1041.5"/>
<use href="#m_sq" x="878.7" y="1029.7"/>
<use href="#m_sq" x="894.6" y="1019.1"/>
<use href="#m_sq" x="910.8" y="1007.3"/>
<use href="#m_sq" x="927.3" y="998.0"/>
<use href="#m_sq" x="944.1" y="969.6"/>
<use href="#m_sq" x="961.2" y="966.0"/>
<use href="#m_sq" x="978.6" y="930.2"/>
<use href="#m_sq" x="996.3" y="877.4"/>
</g>
<g fill="#2a6bab">
<circle cx="156.7" cy="1337.0" r="6.9"/>
<circle cx="162.4" cy="1337.3" r="6.9"/>
<circle cx="168.2" cy="1337.7" r="6.9"/>
<circle cx="174.1" cy="1337.2" r="6.9"/>
<circle cx="180.1" cy="1338.3" r="6.9"/>
<circle cx="186.1" cy="1337.3" r="6.9"/>
<circle cx="192.1" cy="1337.3" r="6.9"/>
<circle cx="198.2" cy="1336.2" r="6.9"/>
<circle cx="204.4" cy="1336.7" r="6.9"/>
<circle cx="210.7" cy="1336.7" r="6.9"/>
<circle cx="217.0" cy="1336.2" r="6.9"/>
<circle cx="223.5" cy="1336.8" r="6.9"/>
<circle cx="229.9" cy="1337.9" r="6.9"/>
<circle cx="236.5" cy="1336.2" r="6.9"/>
<circle cx="243.1" cy="1337.7" r="6.9"/>
<circle cx="249.8" cy="1338.0" r="6.9"/>
<circle cx="256.6" cy="1338.3" r="6.9"/>
<circle cx="263.4" cy="1336.3" r="6.9"/>
<circle cx="270.4" cy="1336.5" r="6.9"/>
<circle cx="277.4" cy="1336.5" r="6.9"/>
<circle cx="284.5" cy="1336.3" r="6.9"/>
<circle cx="291.6" cy="1338.2" r="6.9"/>
<circle cx="298.9" cy="1337.1" r="6.9"/>
<circle cx="306.3" cy="1336.9" r="6.9"/>
<circle cx="313.7" cy="1337.9" r="6.9"/>
<circle cx="321.2" cy="1336.6" r="6.9"/>
<circle cx="328.8" cy="1337.5" r="6.9"/>
<circle cx="336.5" cy="1336.4" r="6.9"/>
<circle cx="344.4" cy="1336.6" r="6.9"/>
<circle cx="352.3" cy="1338.7" r="6.9"/>
<circle cx="360.3" cy="1342.1" r="6.9"/>
<circle cx="368.4" cy="1342.8" r="6.9"/>
<circle cx="376.6" cy="1342.8" r="6.9"/>
<circle cx="384.9" cy="1342.9" r="6.9"/>
<circle cx="393.3" cy="1342.1" r="6.9"/>
<circle cx="401.8" cy="1342.6" r="6.9"/>
<circle cx="410.4" cy="1341.5" r="6.9"/>
<circle cx="419.2" cy="1341.2" r="6.9"/>
<circle cx="428.0" cy="1341.9" r="6.9"/>
<circle cx="437.0" cy="1341.8" r="6.9"/>
<circle cx="446.1" cy="1342.2" r="6.9"/>
<circle cx="455.3" cy="1342.8" r="6.9"/>
<circle cx="464.6" cy="1341.0" r="6.9"/>
<circle cx="474.1" cy="1342.3" r="6.9"/>
<circle cx="483.7" cy="1334.8" r="6.9"/>
<circle cx="493.4" cy="1341.3" r="6.9"/>
<circle cx="503.3" cy="1333.5" r="6.9"/>
<circle cx="513.3" cy="1324.4" r="6.9"/>
<circle cx="523.4" cy="1317.9" r="6.9"/>
<circle cx="533.7" cy="1311.4" r="6.9"/>
<circle cx="544.1" cy="1299.7" r="6.9"/>
<circle cx="554.7" cy="1287.4" r="6.9"/>
<circle cx="565.4" cy="1274.4" r="6.9"/>
<circle cx="576.3" cy="1263.4" r="6.9"/>
<circle cx="587.3" cy="1249.4" r="6.9"/>
<circle cx="598.5" cy="1236.1" r="6.9"/>
<circle cx="609.9" cy="1223.5" r="6.9"/>
<circle cx="621.4" cy="1210.2" r="6.9"/>
<circle cx="633.1" cy="1196.4" r="6.9"/>
<circle cx="645.0" cy="1183.1" r="6.9"/>
<circle cx="657.1" cy="1169.4" r="6.9"/>
<circle cx="669.3" cy="1154.4" r="6.9"/>
<circle cx="681.8" cy="1138.4" r="6.9"/>
<circle cx="694.4" cy="1125.6" r="6.9"/>
<circle cx="707.2" cy="1106.4" r="6.9"/>
<circle cx="720.3" cy="1101.3" r="6.9"/>
<circle cx="733.5" cy="1085.3" r="6.9"/>
<circle cx="747.0" cy="1078.9" r="6.9"/>
<circle cx="760.7" cy="1067.1" r="6.9"/>
<circle cx="774.6" cy="1056.5" r="6.9"/>
<circle cx="788.7" cy="1047.0" r="6.9"/>
<circle cx="803.1" cy="1039.3" r="6.9"/>
<circle cx="817.7" cy="1031.9" r="6.9"/>
<circle cx="832.5" cy="1020.7" r="6.9"/>
<circle cx="847.7" cy="1009.6" r="6.9"/>
<circle cx="863.0" cy="997.7" r="6.9"/>
<circle cx="878.7" cy="985.6" r="6.9"/>
<circle cx="894.6" cy="976.6" r="6.9"/>
<circle cx="910.8" cy="965.8" r="6.9"/>
<circle cx="927.3" cy="953.3" r="6.9"/>
<circle cx="944.1" cy="922.1" r="6.9"/>
<circle cx="961.2" cy="912.5" r="6.9"/>
<circle cx="978.6" cy="876.9" r="6.9"/>
<circle cx="996.3" cy="811.8" r="6.9"/>
</g>
<g fill="#1e8a70">
<use href="#m_tri" x="156.7" y="1341.0"/>
<use href="#m_tri" x="162.4" y="1341.5"/>
<use href="#m_tri" x="168.2" y="1340.8"/>
<use href="#m_tri" x="174.1" y="1342.3"/>
<use href="#m_tri" x="180.1" y="1341.0"/>
<use href="#m_tri" x="186.1" y="1340.9"/>
<use href="#m_tri" x="192.1" y="1339.6"/>
<use href="#m_tri" x="198.2" y="1340.2"/>
<use href="#m_tri" x="204.4" y="1340.2"/>
<use href="#m_tri" x="210.7" y="1339.6"/>
<use href="#m_tri" x="217.0" y="1340.4"/>
<use href="#m_tri" x="223.5" y="1341.8"/>
<use href="#m_tri" x="229.9" y="1339.6"/>
<use href="#m_tri" x="236.5" y="1341.5"/>
<use href="#m_tri" x="243.1" y="1341.8"/>
<use href="#m_tri" x="249.8" y="1342.2"/>
<use href="#m_tri" x="256.6" y="1339.8"/>
<use href="#m_tri" x="263.4" y="1340.1"/>
<use href="#m_tri" x="270.4" y="1340.0"/>
<use href="#m_tri" x="277.4" y="1339.8"/>
<use href="#m_tri" x="284.5" y="1342.1"/>
<use href="#m_tri" x="291.6" y="1340.7"/>
<use href="#m_tri" x="298.9" y="1340.6"/>
<use href="#m_tri" x="306.3" y="1341.8"/>
<use href="#m_tri" x="313.7" y="1340.1"/>
<use href="#m_tri" x="321.2" y="1341.2"/>
<use href="#m_tri" x="328.8" y="1339.9"/>
<use href="#m_tri" x="336.5" y="1340.1"/>
<use href="#m_tri" x="344.4" y="1339.9"/>
<use href="#m_tri" x="352.3" y="1341.2"/>
<use href="#m_tri" x="360.3" y="1342.0"/>
<use href="#m_tri" x="368.4" y="1342.0"/>
<use href="#m_tri" x="376.6" y="1342.1"/>
<use href="#m_tri" x="384.9" y="1341.2"/>
<use href="#m_tri" x="393.3" y="1341.7"/>
<use href="#m_tri" x="401.8" y="1340.3"/>
<use href="#m_tri" x="410.4" y="1340.0"/>
<use href="#m_tri" x="419.2" y="1340.9"/>
<use href="#m_tri" x="428.0" y="1340.7"/>
<use href="#m_tri" x="437.0" y="1341.2"/>
<use href="#m_tri" x="446.1" y="1342.0"/>
<use href="#m_tri" x="455.3" y="1355.0"/>
<use href="#m_tri" x="464.6" y="1355.0"/>
<use href="#m_tri" x="474.1" y="1346.5"/>
<use href="#m_tri" x="483.7" y="1337.9"/>
<use href="#m_tri" x="493.4" y="1328.8"/>
<use href="#m_tri" x="503.3" y="1316.8"/>
<use href="#m_tri" x="513.3" y="1307.1"/>
<use href="#m_tri" x="523.4" y="1296.2"/>
<use href="#m_tri" x="533.7" y="1285.2"/>
<use href="#m_tri" x="544.1" y="1274.0"/>
<use href="#m_tri" x="554.7" y="1262.7"/>
<use href="#m_tri" x="565.4" y="1249.5"/>
<use href="#m_tri" x="576.3" y="1234.1"/>
<use href="#m_tri" x="587.3" y="1217.3"/>
<use href="#m_tri" x="598.5" y="1200.5"/>
<use href="#m_tri" x="609.9" y="1185.8"/>
<use href="#m_tri" x="621.4" y="1169.1"/>
<use href="#m_tri" x="633.1" y="1153.5"/>
<use href="#m_tri" x="645.0" y="1138.4"/>
<use href="#m_tri" x="657.1" y="1121.6"/>
<use href="#m_tri" x="669.3" y="1104.9"/>
<use href="#m_tri" x="681.8" y="1086.9"/>
<use href="#m_tri" x="694.4" y="1066.5"/>
<use href="#m_tri" x="707.2" y="1046.0"/>
<use href="#m_tri" x="720.3" y="1042.8"/>
<use href="#m_tri" x="733.5" y="1021.3"/>
<use href="#m_tri" x="747.0" y="1014.9"/>
<use href="#m_tri" x="760.7" y="1002.2"/>
<use href="#m_tri" x="774.6" y="989.4"/>
<use href="#m_tri" x="788.7" y="978.8"/>
<use href="#m_tri" x="803.1" y="971.8"/>
<use href="#m_tri" x="817.7" y="964.9"/>
<use href="#m_tri" x="832.5" y="949.6"/>
<use href="#m_tri" x="847.7" y="936.9"/>
<use href="#m_tri" x="863.0" y="924.3"/>
<use href="#m_tri" x="878.7" y="910.7"/>
<use href="#m_tri" x="894.6" y="899.8"/>
<use href="#m_tri" x="910.8" y="887.2"/>
<use href="#m_tri" x="927.3" y="875.4"/>
<use href="#m_tri" x="944.1" y="839.3"/>
<use href="#m_tri" x="961.2" y="831.1"/>
<use href="#m_tri" x="978.6" y="791.6"/>
<use href="#m_tri" x="996.3" y="718.3"/>
</g>
<g fill="#0da335">
<use href="#m_tdn" x="156.7" y="1344.2"/>
<use href="#m_tdn" x="162.4" y="1346.6"/>
<use href="#m_tdn" x="168.2" y="1344.6"/>
<use href="#m_tdn" x="174.1" y="1344.4"/>
<use href="#m_tdn" x="180.1" y="1342.2"/>
<use href="#m_tdn" x="186.1" y="1343.2"/>
<use href="#m_tdn" x="192.1" y="1343.2"/>
<use href="#m_tdn" x="198.2" y="1342.2"/>
<use href="#m_tdn" x="204.4" y="1343.6"/>
<use href="#m_tdn" x="210.7" y="1345.9"/>
<use href="#m_tdn" x="217.0" y="1342.2"/>
<use href="#m_tdn" x="223.5" y="1345.4"/>
<use href="#m_tdn" x="229.9" y="1345.9"/>
<use href="#m_tdn" x="236.5" y="1346.6"/>
<use href="#m_tdn" x="243.1" y="1342.5"/>
<use href="#m_tdn" x="249.8" y="1342.9"/>
<use href="#m_tdn" x="256.6" y="1342.8"/>
<use href="#m_tdn" x="263.4" y="1342.5"/>
<use href="#m_tdn" x="270.4" y="1346.3"/>
<use href="#m_tdn" x="277.4" y="1344.0"/>
<use href="#m_tdn" x="284.5" y="1343.8"/>
<use href="#m_tdn" x="291.6" y="1345.9"/>
<use href="#m_tdn" x="298.9" y="1342.9"/>
<use href="#m_tdn" x="306.3" y="1344.9"/>
<use href="#m_tdn" x="313.7" y="1342.7"/>
<use href="#m_tdn" x="321.2" y="1343.0"/>
<use href="#m_tdn" x="328.8" y="1342.7"/>
<use href="#m_tdn" x="336.5" y="1344.8"/>
<use href="#m_tdn" x="344.4" y="1346.2"/>
<use href="#m_tdn" x="352.3" y="1346.1"/>
<use href="#m_tdn" x="360.3" y="1346.3"/>
<use href="#m_tdn" x="368.4" y="1344.8"/>
<use href="#m_tdn" x="376.6" y="1345.7"/>
<use href="#m_tdn" x="384.9" y="1343.4"/>
<use href="#m_tdn" x="393.3" y="1342.9"/>
<use href="#m_tdn" x="401.8" y="1344.3"/>
<use href="#m_tdn" x="410.4" y="1344.0"/>
<use href="#m_tdn" x="419.2" y="1344.8"/>
<use href="#m_tdn" x="428.0" y="1346.1"/>
<use href="#m_tdn" x="437.0" y="1342.3"/>
<use href="#m_tdn" x="446.1" y="1345.2"/>
<use href="#m_tdn" x="455.3" y="1337.8"/>
<use href="#m_tdn" x="464.6" y="1330.8"/>
<use href="#m_tdn" x="474.1" y="1323.7"/>
<use href="#m_tdn" x="483.7" y="1316.2"/>
<use href="#m_tdn" x="493.4" y="1308.6"/>
<use href="#m_tdn" x="503.3" y="1300.8"/>
<use href="#m_tdn" x="513.3" y="1290.0"/>
<use href="#m_tdn" x="523.4" y="1277.3"/>
<use href="#m_tdn" x="533.7" y="1263.6"/>
<use href="#m_tdn" x="544.1" y="1247.9"/>
<use href="#m_tdn" x="554.7" y="1233.9"/>
<use href="#m_tdn" x="565.4" y="1217.8"/>
<use href="#m_tdn" x="576.3" y="1201.7"/>
<use href="#m_tdn" x="587.3" y="1184.9"/>
<use href="#m_tdn" x="598.5" y="1167.5"/>
<use href="#m_tdn" x="609.9" y="1150.5"/>
<use href="#m_tdn" x="621.4" y="1132.8"/>
<use href="#m_tdn" x="633.1" y="1117.2"/>
<use href="#m_tdn" x="645.0" y="1100.5"/>
<use href="#m_tdn" x="657.1" y="1083.7"/>
<use href="#m_tdn" x="669.3" y="1065.7"/>
<use href="#m_tdn" x="681.8" y="1046.5"/>
<use href="#m_tdn" x="694.4" y="1027.3"/>
<use href="#m_tdn" x="707.2" y="1003.2"/>
<use href="#m_tdn" x="720.3" y="1000.0"/>
<use href="#m_tdn" x="733.5" y="978.6"/>
<use href="#m_tdn" x="747.0" y="972.2"/>
<use href="#m_tdn" x="760.7" y="961.0"/>
<use href="#m_tdn" x="774.6" y="946.2"/>
<use href="#m_tdn" x="788.7" y="933.2"/>
<use href="#m_tdn" x="803.1" y="925.2"/>
<use href="#m_tdn" x="817.7" y="917.4"/>
<use href="#m_tdn" x="832.5" y="903.6"/>
<use href="#m_tdn" x="847.7" y="890.0"/>
<use href="#m_tdn" x="863.0" y="877.4"/>
<use href="#m_tdn" x="878.7" y="863.8"/>
<use href="#m_tdn" x="894.6" y="852.0"/>
<use href="#m_tdn" x="910.8" y="839.4"/>
<use href="#m_tdn" x="927.3" y="827.4"/>
<use href="#m_tdn" x="944.1" y="789.2"/>
<use href="#m_tdn" x="961.2" y="782.2"/>
<use href="#m_tdn" x="978.6" y="740.0"/>
</g>
<g fill="#03c003">
<use href="#m_diam" x="156.7" y="1342.4"/>
<use href="#m_diam" x="162.4" y="1341.8"/>
<use href="#m_diam" x="168.2" y="1345.0"/>
<use href="#m_diam" x="174.1" y="1342.3"/>
<use href="#m_diam" x="180.1" y="1344.6"/>
<use href="#m_diam" x="186.1" y="1343.1"/>
<use href="#m_diam" x="192.1" y="1342.2"/>
<use href="#m_diam" x="198.2" y="1343.6"/>
<use href="#m_diam" x="204.4" y="1342.1"/>
<use href="#m_diam" x="210.7" y="1346.2"/>
<use href="#m_diam" x="217.0" y="1346.4"/>
<use href="#m_diam" x="223.5" y="1342.0"/>
<use href="#m_diam" x="229.9" y="1344.0"/>
<use href="#m_diam" x="236.5" y="1346.1"/>
<use href="#m_diam" x="243.1" y="1341.8"/>
<use href="#m_diam" x="249.8" y="1341.6"/>
<use href="#m_diam" x="256.6" y="1345.7"/>
<use href="#m_diam" x="263.4" y="1343.5"/>
<use href="#m_diam" x="270.4" y="1343.2"/>
<use href="#m_diam" x="277.4" y="1344.9"/>
<use href="#m_diam" x="284.5" y="1341.9"/>
<use href="#m_diam" x="291.6" y="1345.6"/>
<use href="#m_diam" x="298.9" y="1341.8"/>
<use href="#m_diam" x="306.3" y="1346.0"/>
<use href="#m_diam" x="313.7" y="1342.3"/>
<use href="#m_diam" x="321.2" y="1343.7"/>
<use href="#m_diam" x="328.8" y="1342.2"/>
<use href="#m_diam" x="336.5" y="1344.8"/>
<use href="#m_diam" x="344.4" y="1344.3"/>
<use href="#m_diam" x="352.3" y="1344.5"/>
<use href="#m_diam" x="360.3" y="1345.0"/>
<use href="#m_diam" x="368.4" y="1345.6"/>
<use href="#m_diam" x="376.6" y="1342.9"/>
<use href="#m_diam" x="384.9" y="1343.4"/>
<use href="#m_diam" x="393.3" y="1341.6"/>
<use href="#m_diam" x="401.8" y="1342.2"/>
<use href="#m_diam" x="410.4" y="1344.8"/>
<use href="#m_diam" x="419.2" y="1344.8"/>
<use href="#m_diam" x="428.0" y="1343.9"/>
<use href="#m_diam" x="437.0" y="1350.0"/>
<use href="#m_diam" x="446.1" y="1337.5"/>
<use href="#m_diam" x="455.3" y="1333.3"/>
<use href="#m_diam" x="464.6" y="1329.1"/>
<use href="#m_diam" x="474.1" y="1315.8"/>
<use href="#m_diam" x="483.7" y="1307.4"/>
<use href="#m_diam" x="493.4" y="1299.7"/>
<use href="#m_diam" x="503.3" y="1289.9"/>
<use href="#m_diam" x="513.3" y="1275.9"/>
<use href="#m_diam" x="523.4" y="1262.0"/>
<use href="#m_diam" x="533.7" y="1249.4"/>
<use href="#m_diam" x="544.1" y="1234.7"/>
<use href="#m_diam" x="554.7" y="1219.3"/>
<use href="#m_diam" x="565.4" y="1202.5"/>
<use href="#m_diam" x="576.3" y="1184.3"/>
<use href="#m_diam" x="587.3" y="1167.6"/>
<use href="#m_diam" x="598.5" y="1147.8"/>
<use href="#m_diam" x="609.9" y="1131.0"/>
<use href="#m_diam" x="621.4" y="1112.2"/>
<use href="#m_diam" x="633.1" y="1096.7"/>
<use href="#m_diam" x="645.0" y="1078.7"/>
<use href="#m_diam" x="657.1" y="1060.7"/>
<use href="#m_diam" x="669.3" y="1041.5"/>
<use href="#m_diam" x="681.8" y="1021.1"/>
<use href="#m_diam" x="694.4" y="1000.8"/>
<use href="#m_diam" x="707.2" y="979.0"/>
<use href="#m_diam" x="720.3" y="975.7"/>
<use href="#m_diam" x="733.5" y="952.2"/>
<use href="#m_diam" x="747.0" y="944.8"/>
<use href="#m_diam" x="760.7" y="930.1"/>
<use href="#m_diam" x="774.6" y="916.5"/>
<use href="#m_diam" x="788.7" y="905.6"/>
<use href="#m_diam" x="803.1" y="896.6"/>
<use href="#m_diam" x="817.7" y="888.2"/>
<use href="#m_diam" x="832.5" y="874.1"/>
<use href="#m_diam" x="847.7" y="860.6"/>
<use href="#m_diam" x="863.0" y="846.3"/>
<use href="#m_diam" x="878.7" y="833.6"/>
<use href="#m_diam" x="894.6" y="822.6"/>
<use href="#m_diam" x="910.8" y="809.5"/>
<use href="#m_diam" x="927.3" y="797.5"/>
<use href="#m_diam" x="944.1" y="759.3"/>
<use href="#m_diam" x="961.2" y="751.3"/>
<use href="#m_diam" x="978.6" y="708.1"/>
</g>
<g fill="#70de1e">
<use href="#m_rtri" x="156.7" y="1347.0"/>
<use href="#m_rtri" x="162.4" y="1344.1"/>
<use href="#m_rtri" x="168.2" y="1343.8"/>
<use href="#m_rtri" x="174.1" y="1340.7"/>
<use href="#m_rtri" x="180.1" y="1342.1"/>
<use href="#m_rtri" x="186.1" y="1342.0"/>
<use href="#m_rtri" x="192.1" y="1340.6"/>
<use href="#m_rtri" x="198.2" y="1342.5"/>
<use href="#m_rtri" x="204.4" y="1345.7"/>
<use href="#m_rtri" x="210.7" y="1340.6"/>
<use href="#m_rtri" x="217.0" y="1345.0"/>
<use href="#m_rtri" x="223.5" y="1345.7"/>
<use href="#m_rtri" x="229.9" y="1346.6"/>
<use href="#m_rtri" x="236.5" y="1340.9"/>
<use href="#m_rtri" x="243.1" y="1341.5"/>
<use href="#m_rtri" x="249.8" y="1341.3"/>
<use href="#m_rtri" x="256.6" y="1340.8"/>
<use href="#m_rtri" x="263.4" y="1346.1"/>
<use href="#m_rtri" x="270.4" y="1343.0"/>
<use href="#m_rtri" x="277.4" y="1342.5"/>
<use href="#m_rtri" x="284.5" y="1345.5"/>
<use href="#m_rtri" x="291.6" y="1341.3"/>
<use href="#m_rtri" x="298.9" y="1344.1"/>
<use href="#m_rtri" x="306.3" y="1341.0"/>
<use href="#m_rtri" x="313.7" y="1341.4"/>
<use href="#m_rtri" x="321.2" y="1340.9"/>
<use href="#m_rtri" x="328.8" y="1343.8"/>
<use href="#m_rtri" x="336.5" y="1345.7"/>
<use href="#m_rtri" x="344.4" y="1345.7"/>
<use href="#m_rtri" x="352.3" y="1345.9"/>
<use href="#m_rtri" x="360.3" y="1343.6"/>
<use href="#m_rtri" x="368.4" y="1344.9"/>
<use href="#m_rtri" x="376.6" y="1341.7"/>
<use href="#m_rtri" x="384.9" y="1340.9"/>
<use href="#m_rtri" x="393.3" y="1342.9"/>
<use href="#m_rtri" x="401.8" y="1342.5"/>
<use href="#m_rtri" x="410.4" y="1343.6"/>
<use href="#m_rtri" x="419.2" y="1345.3"/>
<use href="#m_rtri" x="428.0" y="1340.0"/>
<use href="#m_rtri" x="437.0" y="1344.0"/>
<use href="#m_rtri" x="446.1" y="1338.4"/>
<use href="#m_rtri" x="455.3" y="1332.1"/>
<use href="#m_rtri" x="464.6" y="1318.1"/>
<use href="#m_rtri" x="474.1" y="1303.2"/>
<use href="#m_rtri" x="483.7" y="1293.1"/>
<use href="#m_rtri" x="493.4" y="1280.9"/>
<use href="#m_rtri" x="503.3" y="1265.2"/>
<use href="#m_rtri" x="513.3" y="1255.0"/>
<use href="#m_rtri" x="523.4" y="1239.6"/>
<use href="#m_rtri" x="533.7" y="1224.9"/>
<use href="#m_rtri" x="544.1" y="1208.8"/>
<use href="#m_rtri" x="554.7" y="1192.7"/>
<use href="#m_rtri" x="565.4" y="1175.2"/>
<use href="#m_rtri" x="576.3" y="1155.9"/>
<use href="#m_rtri" x="587.3" y="1136.8"/>
<use href="#m_rtri" x="598.5" y="1117.0"/>
<use href="#m_rtri" x="609.9" y="1099.1"/>
<use href="#m_rtri" x="621.4" y="1082.3"/>
<use href="#m_rtri" x="633.1" y="1064.3"/>
<use href="#m_rtri" x="645.0" y="1045.1"/>
<use href="#m_rtri" x="657.1" y="1026.7"/>
<use href="#m_rtri" x="669.3" y="1006.8"/>
<use href="#m_rtri" x="681.8" y="986.4"/>
<use href="#m_rtri" x="694.4" y="964.8"/>
<use href="#m_rtri" x="707.2" y="941.0"/>
<use href="#m_rtri" x="720.3" y="937.0"/>
<use href="#m_rtri" x="733.5" y="914.0"/>
<use href="#m_rtri" x="747.0" y="905.0"/>
<use href="#m_rtri" x="760.7" y="890.0"/>
<use href="#m_rtri" x="774.6" y="875.0"/>
<use href="#m_rtri" x="788.7" y="864.0"/>
<use href="#m_rtri" x="803.1" y="855.0"/>
<use href="#m_rtri" x="817.7" y="847.0"/>
<use href="#m_rtri" x="832.5" y="832.6"/>
<use href="#m_rtri" x="847.7" y="819.6"/>
<use href="#m_rtri" x="863.0" y="805.5"/>
<use href="#m_rtri" x="878.7" y="791.4"/>
<use href="#m_rtri" x="894.6" y="780.4"/>
<use href="#m_rtri" x="910.8" y="768.4"/>
<use href="#m_rtri" x="927.3" y="756.3"/>
<use href="#m_rtri" x="944.1" y="716.8"/>
<use href="#m_rtri" x="961.2" y="708.1"/>
</g>
<g fill="#e6f83b">
<use href="#m_star" x="156.7" y="1348.3"/>
<use href="#m_star" x="162.4" y="1349.4"/>
<use href="#m_star" x="168.2" y="1348.4"/>
<use href="#m_star" x="174.1" y="1350.9"/>
<use href="#m_star" x="180.1" y="1347.8"/>
<use href="#m_star" x="186.1" y="1348.0"/>
<use href="#m_star" x="192.1" y="1344.7"/>
<use href="#m_star" x="198.2" y="1346.3"/>
<use href="#m_star" x="204.4" y="1345.9"/>
<use href="#m_star" x="210.7" y="1345.0"/>
<use href="#m_star" x="217.0" y="1348.5"/>
<use href="#m_star" x="223.5" y="1344.6"/>
<use href="#m_star" x="229.9" y="1345.7"/>
<use href="#m_star" x="236.5" y="1349.2"/>
<use href="#m_star" x="243.1" y="1349.5"/>
<use href="#m_star" x="249.8" y="1351.8"/>
<use href="#m_star" x="256.6" y="1352.0"/>
<use href="#m_star" x="263.4" y="1344.8"/>
<use href="#m_star" x="270.4" y="1349.8"/>
<use href="#m_star" x="277.4" y="1350.7"/>
<use href="#m_star" x="284.5" y="1345.2"/>
<use href="#m_star" x="291.6" y="1346.8"/>
<use href="#m_star" x="298.9" y="1345.2"/>
<use href="#m_star" x="306.3" y="1350.5"/>
<use href="#m_star" x="313.7" y="1349.3"/>
<use href="#m_star" x="321.2" y="1348.4"/>
<use href="#m_star" x="328.8" y="1345.9"/>
<use href="#m_star" x="336.5" y="1349.0"/>
<use href="#m_star" x="344.4" y="1348.4"/>
<use href="#m_star" x="352.3" y="1348.0"/>
<use href="#m_star" x="360.3" y="1351.5"/>
<use href="#m_star" x="368.4" y="1348.8"/>
<use href="#m_star" x="376.6" y="1347.9"/>
<use href="#m_star" x="384.9" y="1339.6"/>
<use href="#m_star" x="393.3" y="1348.7"/>
<use href="#m_star" x="401.8" y="1345.9"/>
<use href="#m_star" x="410.4" y="1348.7"/>
<use href="#m_star" x="419.2" y="1346.6"/>
<use href="#m_star" x="428.0" y="1344.5"/>
<use href="#m_star" x="437.0" y="1334.0"/>
<use href="#m_star" x="446.1" y="1328.4"/>
<use href="#m_star" x="455.3" y="1322.1"/>
<use href="#m_star" x="464.6" y="1308.1"/>
<use href="#m_star" x="474.1" y="1293.2"/>
<use href="#m_star" x="483.7" y="1283.1"/>
<use href="#m_star" x="493.4" y="1270.9"/>
<use href="#m_star" x="503.3" y="1255.2"/>
<use href="#m_star" x="513.3" y="1241.8"/>
<use href="#m_star" x="523.4" y="1229.6"/>
<use href="#m_star" x="533.7" y="1217.3"/>
<use href="#m_star" x="544.1" y="1199.0"/>
<use href="#m_star" x="554.7" y="1180.5"/>
<use href="#m_star" x="565.4" y="1161.7"/>
<use href="#m_star" x="576.3" y="1140.4"/>
<use href="#m_star" x="587.3" y="1121.8"/>
<use href="#m_star" x="598.5" y="1104.1"/>
<use href="#m_star" x="609.9" y="1085.4"/>
<use href="#m_star" x="621.4" y="1066.2"/>
<use href="#m_star" x="633.1" y="1048.2"/>
<use href="#m_star" x="645.0" y="1029.0"/>
<use href="#m_star" x="657.1" y="1011.0"/>
<use href="#m_star" x="669.3" y="992.3"/>
<use href="#m_star" x="681.8" y="971.6"/>
<use href="#m_star" x="694.4" y="950.3"/>
<use href="#m_star" x="707.2" y="927.3"/>
<use href="#m_star" x="720.3" y="923.5"/>
<use href="#m_star" x="733.5" y="900.0"/>
<use href="#m_star" x="747.0" y="892.0"/>
<use href="#m_star" x="760.7" y="876.9"/>
<use href="#m_star" x="774.6" y="862.2"/>
<use href="#m_star" x="788.7" y="851.1"/>
<use href="#m_star" x="803.1" y="842.0"/>
<use href="#m_star" x="817.7" y="834.7"/>
<use href="#m_star" x="832.5" y="820.3"/>
<use href="#m_star" x="847.7" y="807.2"/>
<use href="#m_star" x="863.0" y="794.2"/>
<use href="#m_star" x="878.7" y="780.1"/>
<use href="#m_star" x="894.6" y="769.1"/>
<use href="#m_star" x="910.8" y="757.0"/>
<use href="#m_star" x="927.3" y="745.4"/>
<use href="#m_star" x="944.1" y="706.2"/>
<use href="#m_star" x="961.2" y="698.8"/>
</g>
</g>
<g clip-path="url(#clipA)">
<line x1="789.2" y1="271.6" x2="503.9" y2="683.0" stroke="#ff0000" stroke-width="4.5" stroke-linecap="round"/>
<line x1="916.0" y1="256.4" x2="529.7" y2="683.0" stroke="#ff0000" stroke-width="4.5" stroke-linecap="round"/>
</g><g clip-path="url(#clipB)">
<line x1="657.5" y1="1011.1" x2="441.9" y2="1358" stroke="#ff0000" stroke-width="4.5" stroke-linecap="round"/>
<line x1="682.1" y1="1086.6" x2="480.8" y2="1358" stroke="#ff0000" stroke-width="4.5" stroke-linecap="round"/>
<line x1="682.1" y1="1139.9" x2="494.5" y2="1358" stroke="#ff0000" stroke-width="4.5" stroke-linecap="round"/>
</g>
<line x1="914.1" y1="361.9" x2="764.3" y2="210.0" stroke="#000" stroke-width="1.4"/><path d="M752.4,197.9L767.6,206.8L761.1,213.2z" fill="#000"/>
<line x1="942.6" y1="1062.5" x2="801.0" y2="798.5" stroke="#000" stroke-width="1.4"/><path d="M793,783.5L805.1,796.3L797.0,800.7z" fill="#000"/>
<path d="M158.2,1.3 H999.6 V1354.0 H158.2 Z M158.2,679.4 H999.6" fill="none" stroke="#000" stroke-width="2.6"/>
<path d="M242.3,1.3 v13 M242.3,679.4 v-13 M242.3,1354.0 v-13 M410.6,1.3 v13 M410.6,679.4 v-13 M410.6,1354.0 v-13 M578.9,1.3 v13 M578.9,679.4 v-13 M578.9,1354.0 v-13 M747.2,1.3 v13 M747.2,679.4 v-13 M747.2,1354.0 v-13 M915.5,1.3 v13 M915.5,679.4 v-13 M915.5,1354.0 v-13 M326.5,1.3 v7 M326.5,679.4 v-7 M326.5,1354.0 v-7 M494.8,1.3 v7 M494.8,679.4 v-7 M494.8,1354.0 v-7 M663.0,1.3 v7 M663.0,679.4 v-7 M663.0,1354.0 v-7 M831.4,1.3 v7 M831.4,679.4 v-7 M831.4,1354.0 v-7 M158.2,667.2 h13 M999.6,667.2 h-13 M158.2,1351.0 h13 M999.6,1351.0 h-13 M158.2,591.5 h7 M999.6,591.5 h-7 M158.2,1266.7 h7 M999.6,1266.7 h-7 M158.2,515.8 h13 M999.6,515.8 h-13 M158.2,1182.3 h13 M999.6,1182.3 h-13 M158.2,440.1 h7 M999.6,440.1 h-7 M158.2,1098.0 h7 M999.6,1098.0 h-7 M158.2,364.5 h13 M999.6,364.5 h-13 M158.2,1013.6 h13 M999.6,1013.6 h-13 M158.2,288.8 h7 M999.6,288.8 h-7 M158.2,929.2 h7 M999.6,929.2 h-7 M158.2,213.1 h13 M999.6,213.1 h-13 M158.2,844.9 h13 M999.6,844.9 h-13 M158.2,137.4 h7 M999.6,137.4 h-7 M158.2,760.5 h7 M999.6,760.5 h-7 M158.2,61.7 h13 M999.6,61.7 h-13 M158.2,676.2 h13 M999.6,676.2 h-13" fill="none" stroke="#000" stroke-width="2.6"/>
<text x="143" y="680.2" text-anchor="end" font-size="29.5">0.000</text>
<text x="143" y="528.8" text-anchor="end" font-size="29.5">0.005</text>
<text x="143" y="377.5" text-anchor="end" font-size="29.5">0.010</text>
<text x="143" y="226.1" text-anchor="end" font-size="29.5">0.015</text>
<text x="143" y="74.7" text-anchor="end" font-size="29.5">0.020</text>
<text x="143" y="1354.0" text-anchor="end" font-size="29.5">0.000</text>
<text x="143" y="1185.3" text-anchor="end" font-size="29.5">0.005</text>
<text x="143" y="1016.6" text-anchor="end" font-size="29.5">0.010</text>
<text x="143" y="847.9" text-anchor="end" font-size="29.5">0.015</text>
<text x="242.3" y="1392.5" text-anchor="middle" font-size="29.5">3.5</text>
<text x="410.6" y="1392.5" text-anchor="middle" font-size="29.5">4.0</text>
<text x="578.9" y="1392.5" text-anchor="middle" font-size="29.5">4.5</text>
<text x="747.2" y="1392.5" text-anchor="middle" font-size="29.5">5.0</text>
<text x="915.5" y="1392.5" text-anchor="middle" font-size="29.5">5.5</text>
<text x="579" y="1443.6" text-anchor="middle" font-size="35">Photon Energy (eV)</text>
<text transform="translate(32,320.5) rotate(-90)" text-anchor="middle" font-size="35.5">(Quantum Yield)<tspan font-size="24" dy="-14">1/3</tspan><tspan dy="14"> (r.u.)</tspan></text>
<text transform="translate(32,995.6) rotate(-90)" text-anchor="middle" font-size="35.5">(Quantum Yield)<tspan font-size="24" dy="-14">1/3</tspan><tspan dy="14"> (r.u.)</tspan></text>
<text x="171" y="48" font-size="35">Au(15 nm)/6ML WSe<tspan font-size="24" dy="8">2</tspan><tspan dy="-8">/SiO</tspan><tspan font-size="24" dy="8">2</tspan><tspan dy="-8">(50 nm)</tspan></text>
<text x="171" y="720.8" font-size="35">Au(15 nm)/3ML WSe<tspan font-size="24" dy="8">2</tspan><tspan dy="-8">/SiO</tspan><tspan font-size="24" dy="8">2</tspan><tspan dy="-8">(50 nm)</tspan></text>
<text x="947.2" y="664" font-size="37" font-weight="bold" textLength="40.5" lengthAdjust="spacingAndGlyphs">(a)</text>
<text x="949" y="1340" font-size="37" font-weight="bold" textLength="42.2" lengthAdjust="spacingAndGlyphs">(b)</text>
<text transform="translate(652,180.5) scale(0.959,1)" font-size="36.5">V<tspan font-size="25" dy="9.4">g</tspan><tspan dy="-9.4">= -10V</tspan></text>
<text transform="translate(864.5,401.8) scale(0.959,1)" font-size="36.5">V<tspan font-size="25" dy="9.4">g</tspan><tspan dy="-9.4">= -1V</tspan></text>
<text transform="translate(708,767.1) scale(0.959,1)" font-size="36.5">V<tspan font-size="25" dy="9.4">g</tspan><tspan dy="-9.4">= -8V</tspan></text>
<text transform="translate(835.5,1106.4) scale(0.959,1)" font-size="36.5">V<tspan font-size="25" dy="9.4">g</tspan><tspan dy="-9.4">= -0.5V</tspan></text>
</svg></body></html>
